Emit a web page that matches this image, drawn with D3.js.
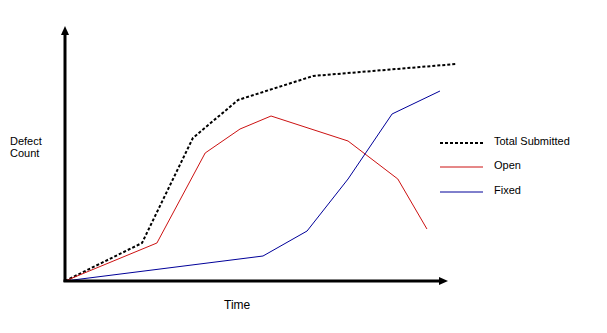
<!DOCTYPE html>
<html>
<head>
<meta charset="utf-8">
<script src="https://cdn.jsdelivr.net/npm/d3@7"></script>
<style>
  html, body { margin: 0; padding: 0; background: #fff; }
  svg { display: block; }
  text { font-family: "Liberation Sans", Arial, sans-serif; fill: #000; }
</style>
</head>
<body>
<svg id="chart" width="607" height="333"></svg>
<script>
// Time positions (arbitrary units) and defect counts (percent of axis height)
const totalTime   = [0, 2.01, 3.34, 4.52, 6.48, 10.21];
const totalCount  = [0, 14.9, 56.1, 71.0, 80.4, 85.1];
const openTime    = [0, 2.4, 3.66, 4.57, 5.38, 7.39, 8.69, 9.45];
const openCount   = [0, 14.9, 50.2, 59.6, 64.7, 54.9, 40.0, 20.4];
const fixedTime   = [0, 5.17, 6.32, 7.39, 8.54, 9.79];
const fixedCount  = [0, 9.8, 19.6, 40.0, 65.5, 74.5];
const seriesNames = ["Total Submitted", "Open", "Fixed"];

const svg = d3.select("#chart");

const x = d3.scaleLinear().domain([0, 10]).range([65, 448]);
const y = d3.scaleLinear().domain([0, 100]).range([281, 26]);

const series = [
  { name: seriesNames[0], t: totalTime, v: totalCount, color: "#000", width: 2, dash: "3,2" },
  { name: seriesNames[1], t: openTime,  v: openCount,  color: "#cc1111", width: 1, dash: null },
  { name: seriesNames[2], t: fixedTime, v: fixedCount, color: "#000099", width: 1, dash: null }
];

const line = d3.line().x(d => x(d[0])).y(d => y(d[1]));

// series lines
series.forEach(s => {
  svg.append("path")
    .datum(s.t.map((t, i) => [t, s.v[i]]))
    .attr("d", line)
    .attr("fill", "none")
    .attr("stroke", s.color)
    .attr("stroke-width", s.width)
    .attr("stroke-dasharray", s.dash);
});

// axes with arrowheads
const x0 = x(0), y0 = y(0), yTop = y(100), xEnd = x(10);
svg.append("line").attr("x1", x0).attr("y1", y0 + 1).attr("x2", x0).attr("y2", yTop + 6)
  .attr("stroke", "#000").attr("stroke-width", 3);
svg.append("path")
  .attr("d", `M${x0},${yTop} L${x0 - 4},${yTop + 9} L${x0 + 4},${yTop + 9} Z`)
  .attr("fill", "#000");
svg.append("line").attr("x1", x0 - 1.5).attr("y1", y0).attr("x2", xEnd - 6).attr("y2", y0)
  .attr("stroke", "#000").attr("stroke-width", 3);
svg.append("path")
  .attr("d", `M${xEnd},${y0} L${xEnd - 9},${y0 - 4} L${xEnd - 9},${y0 + 4} Z`)
  .attr("fill", "#000");

// axis titles
svg.append("text").attr("x", 10).attr("y", 145).style("font-size", "11px").text("Defect");
svg.append("text").attr("x", 10).attr("y", 157).style("font-size", "11px").text("Count");
svg.append("text").attr("x", 224).attr("y", 309).style("font-size", "12px").text("Time");

// legend
const legendY = [143, 167, 192];
series.forEach((s, i) => {
  svg.append("line")
    .attr("x1", 440).attr("x2", 483)
    .attr("y1", legendY[i]).attr("y2", legendY[i])
    .attr("stroke", s.color)
    .attr("stroke-width", s.width)
    .attr("stroke-dasharray", s.dash);
  svg.append("text")
    .attr("x", 494).attr("y", legendY[i] + 2)
    .style("font-size", "11px")
    .text(s.name);
});
</script>
</body>
</html>
